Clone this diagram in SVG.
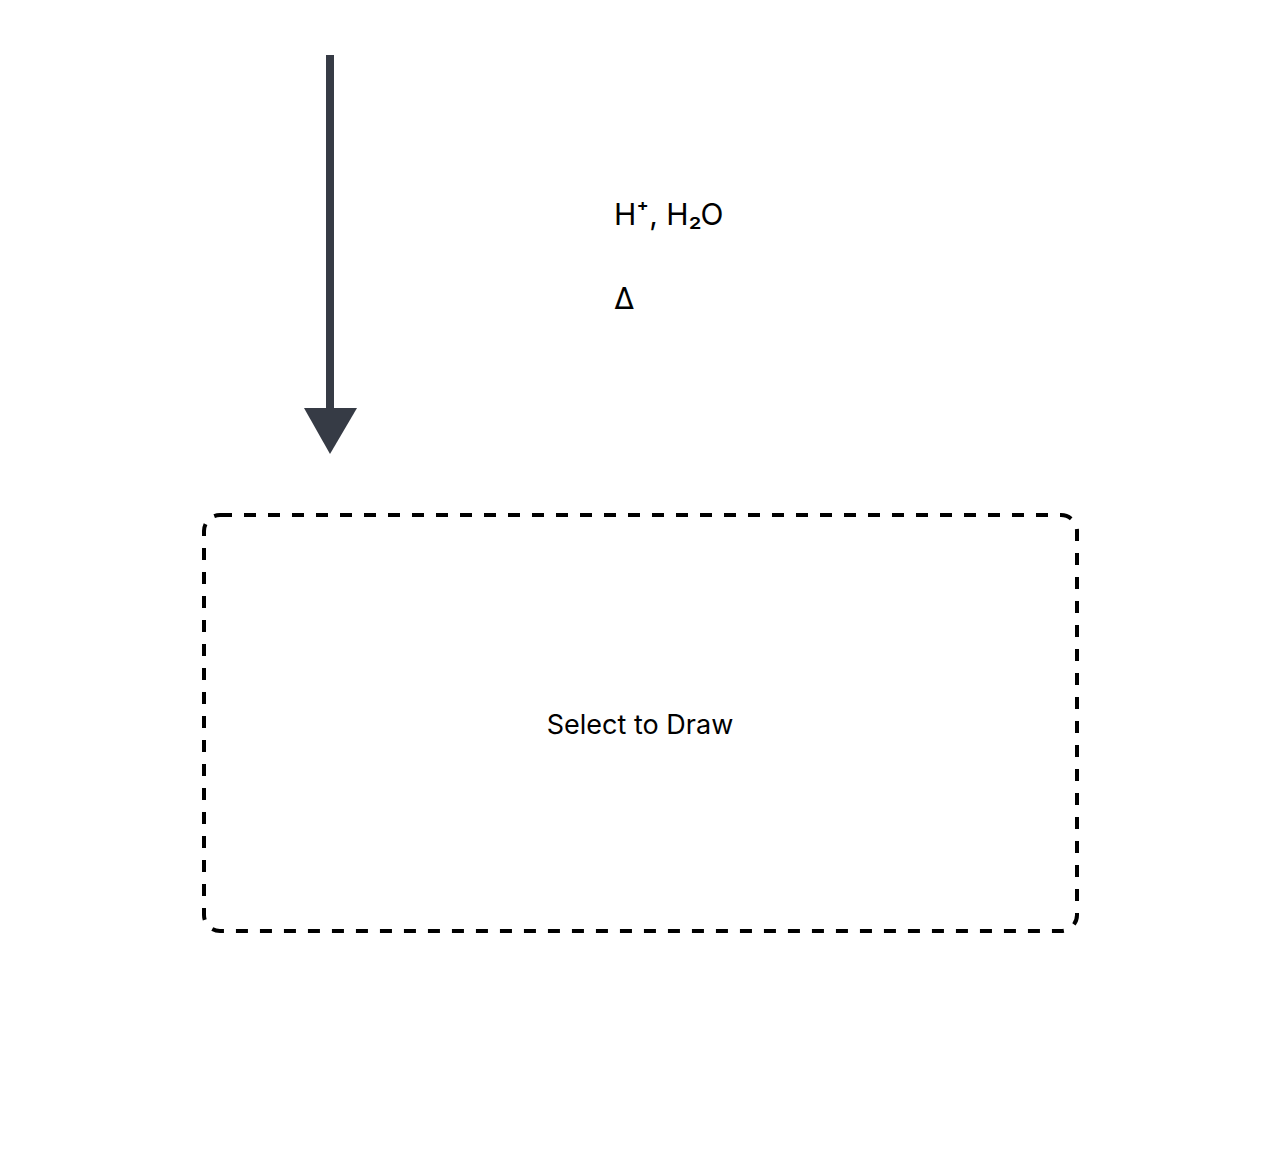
<svg xmlns="http://www.w3.org/2000/svg" width="1280" height="1164" viewBox="0 0 1280 1164">
<style>
.lbl{font-family:Inter,"Liberation Sans",sans-serif;fill:#000}
</style>
<rect width="1280" height="1164" fill="#fff"/>
<g id="connectors">
<line x1="330" y1="55" x2="330" y2="410" stroke="#363b45" stroke-width="8"/>
<polygon points="304,408 357,408 330,454" fill="#363b45"/>
</g>
<g id="conditions">
<text class="lbl" x="614" y="225" font-size="30">H⁺, H₂O</text>
<text class="lbl" x="614" y="309" font-size="30">Δ</text>
</g>
<g id="product">
<rect x="204" y="515" width="873" height="416" rx="16" fill="none" stroke="#000" stroke-width="4" stroke-dasharray="12 12"/>
<text class="lbl" x="640" y="734" font-size="27" text-anchor="middle">Select to Draw</text>
</g>
</svg>
